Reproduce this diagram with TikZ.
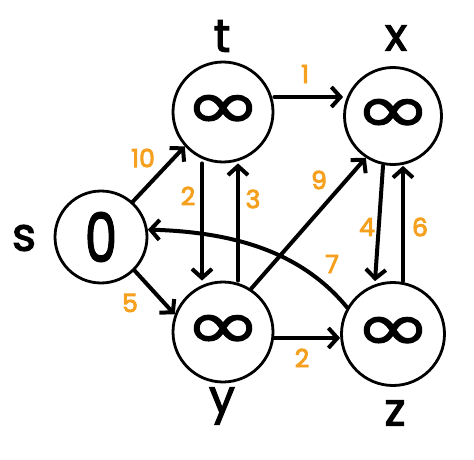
\documentclass[tikz,border=0pt]{standalone}
\usepackage{fontspec}
\usepackage{graphicx}
\setmainfont{Poppins}[FakeBold=2.5]
\newfontfamily\thickf{Poppins}[FakeBold=2.5]
\newfontfamily\wfont{Poppins}[FakeBold=3.5]
\newfontfamily\symf{DejaVu Sans}[FakeBold=1.5]
\newcommand{\myinf}{\scalebox{1.4}[1.05]{∞}}
\newcommand{\myzero}{\scalebox{0.8}[1.05]{0}}
\usetikzlibrary{arrows.meta}
\definecolor{wt}{RGB}{245,160,30}
\begin{document}
\begin{tikzpicture}[x=1pt,y=-1pt,
  vert/.style={circle,draw,line width=2.8pt,minimum size=#1,inner sep=0pt},
  vert/.default=100pt,
  edge/.style={line width=4pt,-{Straight Barb[length=9pt,width=20pt,line width=4pt]},line cap=round},
  wlab/.style={text=wt,font=\wfont\fontsize{25}{25}\selectfont},
  nlab/.style={font=\thickf\fontsize{46}{46}\selectfont},
  zero/.style={font=\thickf\fontsize{64}{64}\selectfont},
  inf/.style={font=\symf\fontsize{66}{66}\selectfont}]
\useasboundingbox (0,0) rectangle (474,460);
\node[vert=92pt,zero] (s) at (101,237) {\myzero};
\node[vert,inf] (t) at (223,112) {\myinf};
\node[vert=97pt,inf] (x) at (393,116) {\myinf};
\node[vert,inf] (y) at (223,332) {\myinf};
\node[vert=103pt,inf] (z) at (393,334) {\myinf};
\node[nlab] (ls) at (24,238) {s};
\node[nlab] (lt) at (222,36) {t};
\node[nlab] (lx) at (396,38) {x};
\node[nlab] (ly) at (222,406) {y};
\node[nlab] (lz) at (395,413) {z};
\draw[edge] (s.48) -- (t.222);
\draw[edge] (t.east |- 0,97) -- (x.west |- 0,97);
\draw[edge] ([xshift=-21pt]t.south) -- ([xshift=-21pt]y.north);
\draw[edge] ([xshift=15pt]y.north) -- ([xshift=15pt]t.south);
\draw[edge] (y.57) -- (x.237);
\draw[edge] ([xshift=-10pt]x.south) -- ([xshift=-18pt]z.north);
\draw[edge] ([xshift=10pt]z.north) -- ([xshift=10pt]x.south);
\draw[edge] (z.150) .. controls (300,250) and (230,232) .. (s.9);
\draw[edge] (s.-45) -- (y.160);
\draw[edge] (y.east |- 0,338) -- (z.west |- 0,338);
\node[wlab] (w10) at (143,158) {10};
\node[wlab] (w2a) at (188,196) {2};
\node[wlab] (w3) at (253,199) {3};
\node[wlab] (w9) at (319,180) {9};
\node[wlab] (w1) at (305,74) {1};
\node[wlab] (w4) at (367,227) {4};
\node[wlab] (w6) at (420,227) {6};
\node[wlab] (w7) at (332,264) {7};
\node[wlab] (w5) at (130,303) {5};
\node[wlab] (w2b) at (302,358) {2};
\end{tikzpicture}
\end{document}
